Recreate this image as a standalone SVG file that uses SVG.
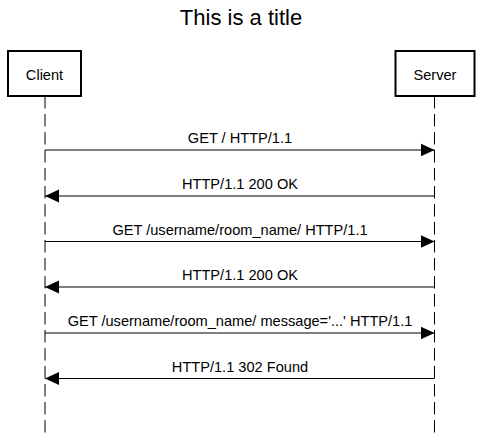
<svg xmlns="http://www.w3.org/2000/svg" width="482" height="435" viewBox="0 0 482 435">
<style>
text{font-family:"Liberation Sans",Arial,sans-serif;fill:#000}
.t{font-size:14.6px;text-anchor:middle}
.box{fill:#fff;stroke:#000;stroke-width:2}
.life{stroke:#000;stroke-width:1;stroke-dasharray:12.5 5.5;fill:none}
.msg{stroke:#000;stroke-width:1;fill:none;marker-end:url(#ah)}
</style>
<defs>
<marker id="ah" markerUnits="userSpaceOnUse" markerWidth="14" markerHeight="14" viewBox="0 0 13 12" refX="13" refY="6" orient="auto">
<path d="M0,0 L13,6 L0,12 Z" fill="#000"/>
</marker>
</defs>
<rect width="482" height="435" fill="#fff"/>
<text x="241" y="25" style="font-size:22px;text-anchor:middle">This is a title</text>
<g id="lifelines">
<line class="life" x1="45" y1="96" x2="45" y2="433"/>
<line class="life" x1="434.5" y1="96" x2="434.5" y2="433"/>
</g>
<g id="client">
<rect class="box" x="8" y="51" width="73" height="45"/>
<text class="t" x="44.5" y="80">Client</text>
</g>
<g id="server">
<rect class="box" x="395.5" y="51" width="79" height="45"/>
<text class="t" x="435" y="80">Server</text>
</g>
<g id="connectors">
<line class="msg" x1="45" y1="150" x2="434.5" y2="150"/>
<text class="t" x="240" y="143">GET / HTTP/1.1</text>
<line class="msg" x1="434.5" y1="196" x2="45" y2="196"/>
<text class="t" x="240" y="188.5">HTTP/1.1 200 OK</text>
<line class="msg" x1="45" y1="241.5" x2="434.5" y2="241.5"/>
<text class="t" x="240" y="234.5">GET /username/room_name/ HTTP/1.1</text>
<line class="msg" x1="434.5" y1="287" x2="45" y2="287"/>
<text class="t" x="240" y="280">HTTP/1.1 200 OK</text>
<line class="msg" x1="45" y1="333" x2="434.5" y2="333"/>
<text class="t" x="240" y="326">GET /username/room_name/ message='...' HTTP/1.1</text>
<line class="msg" x1="434.5" y1="378.5" x2="45" y2="378.5"/>
<text class="t" x="240" y="371.5">HTTP/1.1 302 Found</text>
</g>
</svg>
